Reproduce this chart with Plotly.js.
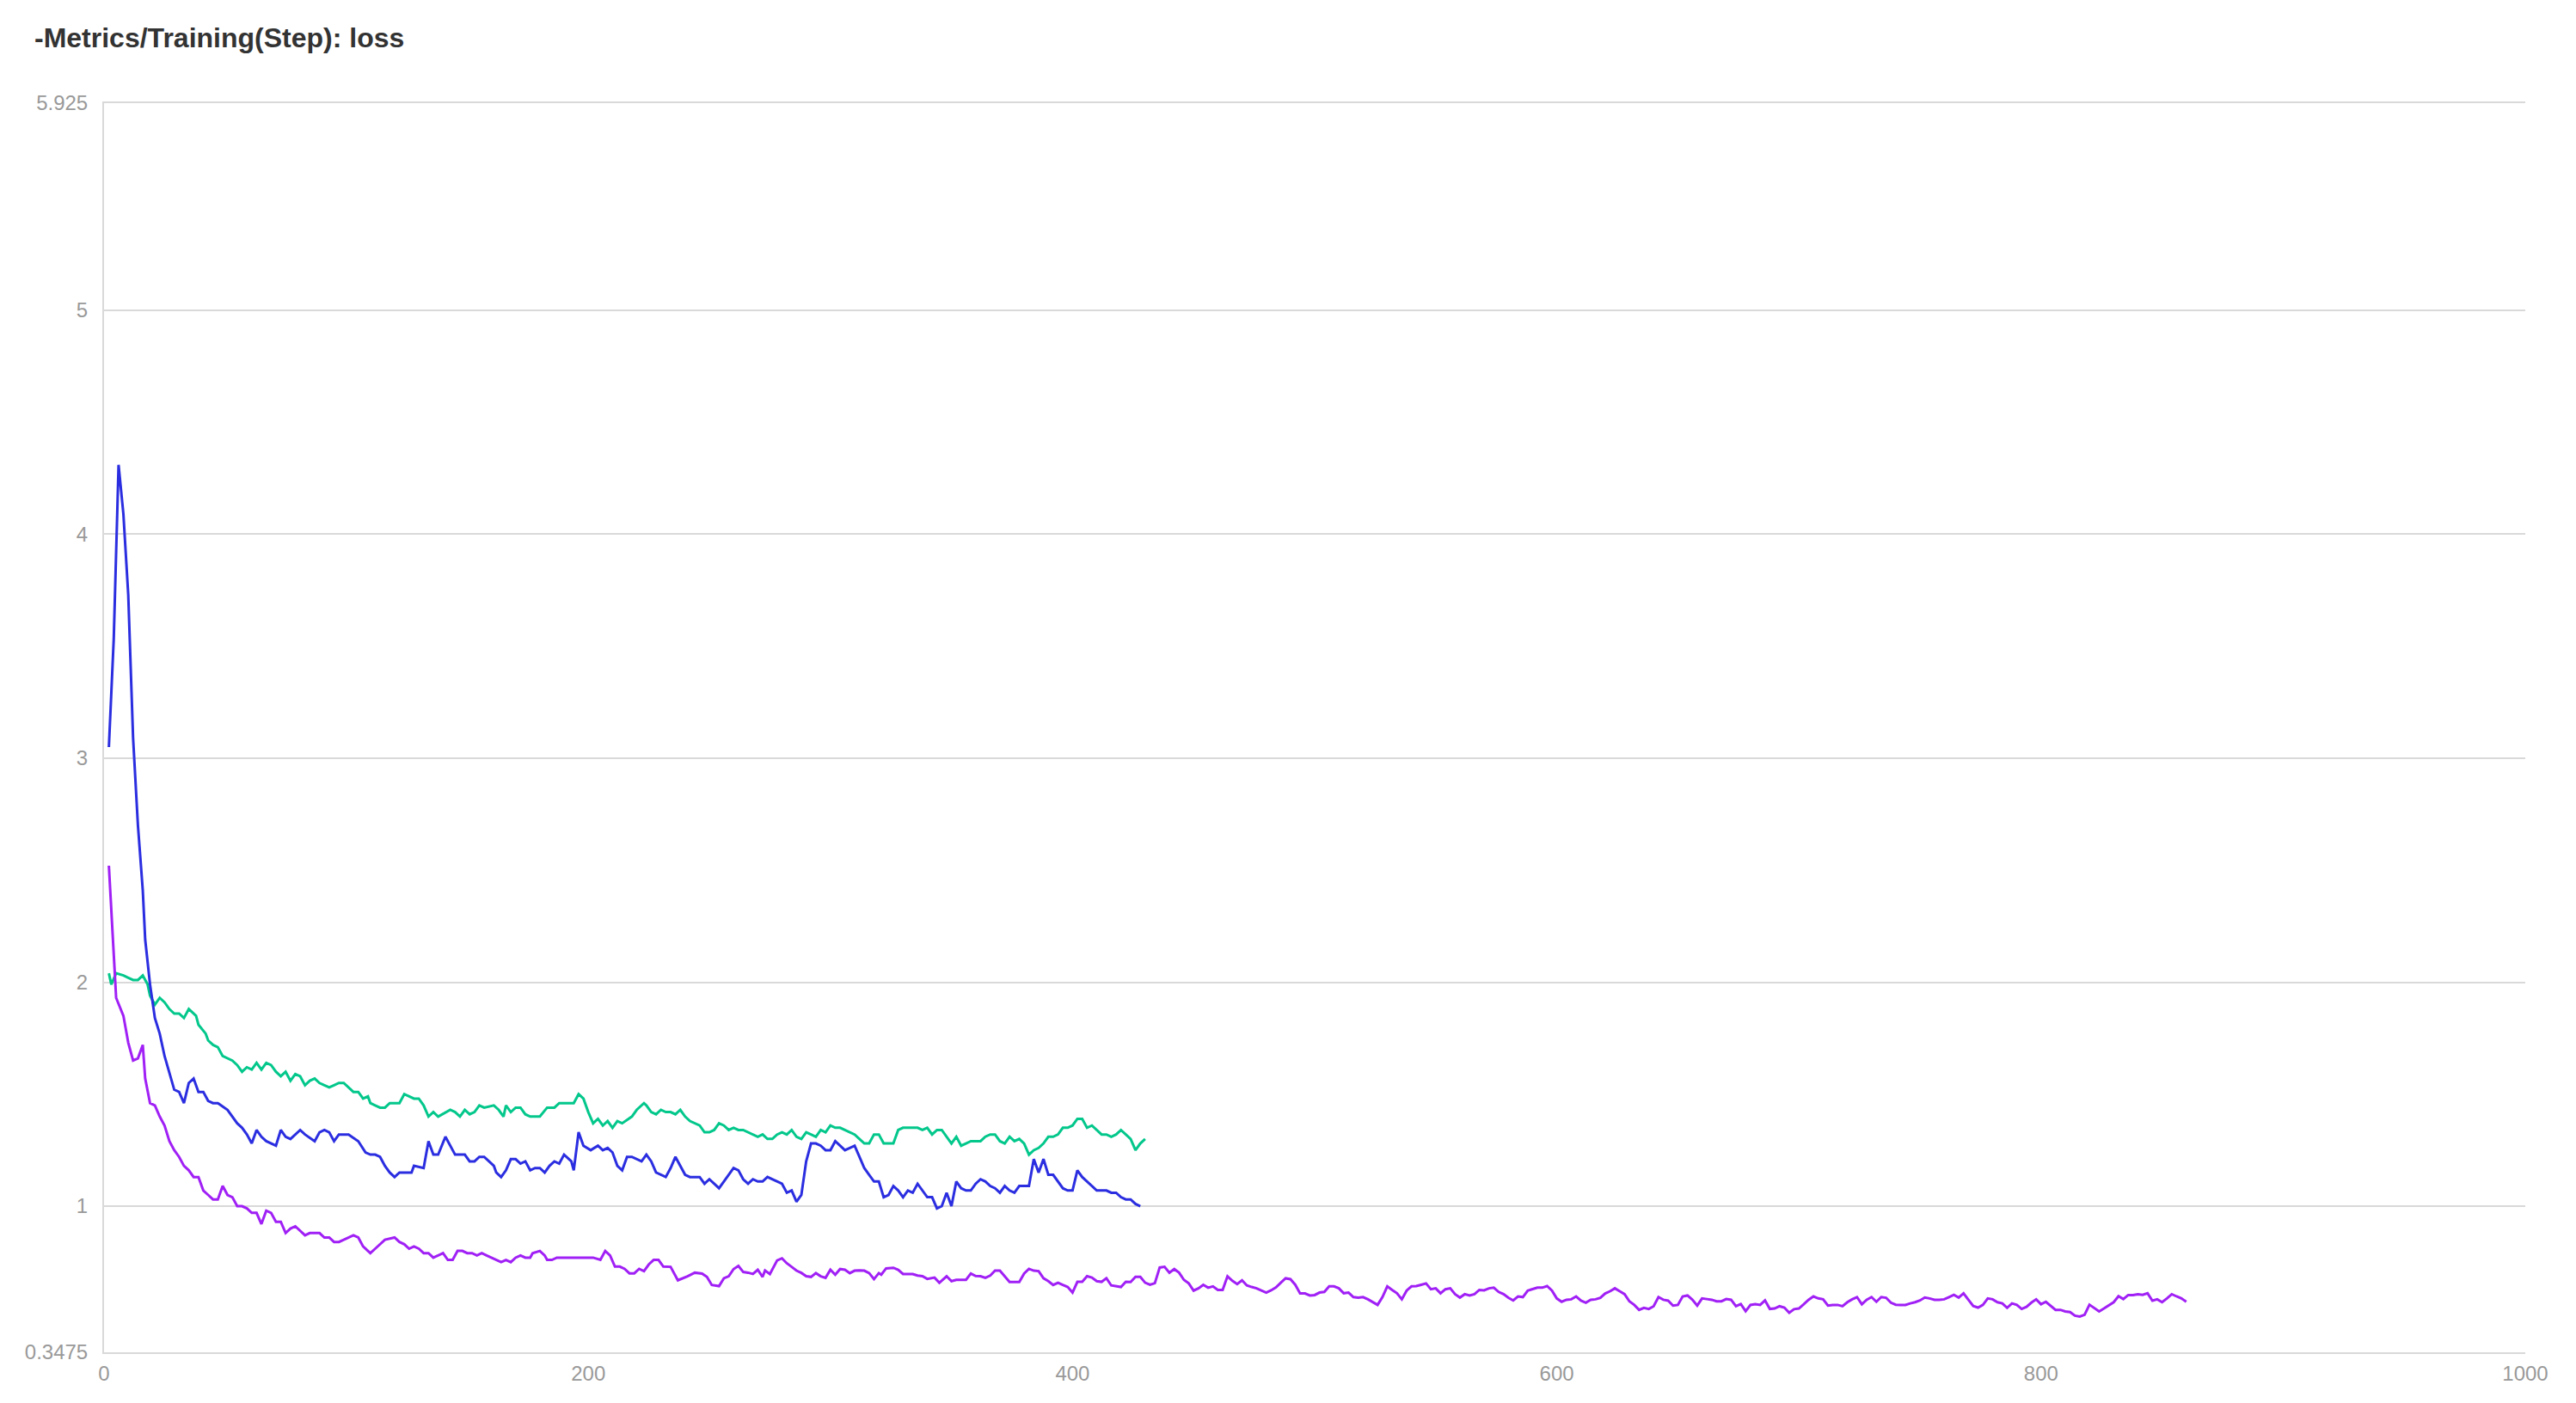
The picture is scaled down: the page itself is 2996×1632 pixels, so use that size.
<!DOCTYPE html>
<html>
<head>
<meta charset="utf-8">
<script src="https://cdn.plot.ly/plotly-3.0.1.min.js"></script>
<style>
  html, body { margin: 0; padding: 0; background: #fff; }
  #graph { width: 2996px; height: 1632px; }
</style>
</head>
<body>
<div id="graph"></div>
<script>
// green run
const greenStep = [2, 3, 5, 8, 10, 12, 14, 16, 18, 19, 21, 23, 25, 27, 29, 31, 33, 35, 38, 39, 42, 43, 45, 47, 49, 53, 55, 57, 59, 61, 63, 65, 67, 69, 71, 73, 75, 77, 79, 81, 83, 85, 87, 89, 91, 93, 95, 97, 99, 101, 103, 105, 107, 109, 110, 112, 114, 116, 118, 120, 122, 124, 126, 128, 130, 132, 134, 136, 138, 141, 143, 145, 147, 149, 151, 153, 155, 157, 161, 163, 165, 166, 168, 170, 172, 174, 176, 180, 183, 186, 188, 190, 192, 194, 196, 198, 200, 202, 204, 206, 208, 210, 212, 214, 218, 220, 223, 224, 226, 228, 230, 232,
  234, 236, 238, 240, 242, 244, 246, 248, 250, 252, 254, 256, 258, 260, 262, 264, 266, 268, 270, 272, 274, 276, 278, 280, 282, 284, 286, 288, 290, 292, 294, 296, 298, 300, 302, 304, 306, 308, 310, 312, 314, 316, 318, 320, 322, 324, 326, 328, 330, 332, 334, 336, 338, 340, 342, 344, 346, 348, 350, 352, 354, 356, 358, 360, 362, 364, 366, 368, 370, 372, 374, 376, 378, 380, 382, 384, 386, 388, 390, 392, 394, 396, 398, 400, 402, 404, 406, 408, 410, 412, 414, 416, 418, 420, 422, 424, 426, 428, 430];
const greenLoss = [2.04, 1.99, 2.04, 2.03, 2.02, 2.01, 2.01, 2.03, 1.99, 1.94, 1.90, 1.93, 1.91, 1.88, 1.86, 1.86, 1.84, 1.88, 1.85, 1.81, 1.77, 1.74, 1.72, 1.71, 1.67, 1.65, 1.63, 1.60, 1.62, 1.61, 1.64, 1.61, 1.64, 1.63, 1.60, 1.58, 1.60, 1.56, 1.59, 1.58, 1.54, 1.56, 1.57, 1.55, 1.54, 1.53, 1.54, 1.55, 1.55, 1.53, 1.51, 1.51, 1.48, 1.49, 1.46, 1.45, 1.44, 1.44, 1.46, 1.46, 1.46, 1.50, 1.49, 1.48, 1.48, 1.45, 1.40, 1.42, 1.40, 1.42, 1.43, 1.42, 1.40, 1.43, 1.41, 1.42, 1.45, 1.44, 1.45, 1.43, 1.40, 1.45, 1.42, 1.44, 1.44, 1.41, 1.40, 1.40, 1.44, 1.44, 1.46, 1.46, 1.46, 1.46, 1.50, 1.48, 1.42, 1.37, 1.39, 1.36, 1.38, 1.35, 1.38, 1.37, 1.40, 1.43, 1.46, 1.45, 1.42, 1.41, 1.43, 1.42,
  1.42, 1.41, 1.43, 1.40, 1.38, 1.37, 1.36, 1.33, 1.33, 1.34, 1.37, 1.36, 1.34, 1.35, 1.34, 1.34, 1.33, 1.32, 1.31, 1.32, 1.30, 1.30, 1.32, 1.33, 1.32, 1.34, 1.31, 1.30, 1.33, 1.32, 1.31, 1.34, 1.33, 1.36, 1.35, 1.35, 1.34, 1.33, 1.32, 1.30, 1.28, 1.28, 1.32, 1.32, 1.28, 1.28, 1.28, 1.34, 1.35, 1.35, 1.35, 1.35, 1.34, 1.35, 1.32, 1.34, 1.34, 1.31, 1.28, 1.31, 1.27, 1.28, 1.29, 1.29, 1.29, 1.31, 1.32, 1.32, 1.29, 1.28, 1.31, 1.29, 1.30, 1.28, 1.23, 1.25, 1.26, 1.28, 1.31, 1.31, 1.32, 1.35, 1.35, 1.36, 1.39, 1.39, 1.35, 1.36, 1.34, 1.32, 1.32, 1.31, 1.32, 1.34, 1.32, 1.30, 1.25, 1.28, 1.30];

// blue run
const blueStep = [2, 4, 6, 8, 10, 12, 14, 16, 17, 19, 21, 23, 25, 27, 29, 31, 33, 35, 37, 39, 41, 43, 45, 47, 51, 55, 57, 59, 61, 63, 65, 67, 71, 73, 75, 77, 79, 81, 83, 87, 89, 91, 93, 95, 97, 101, 105, 108, 110, 112, 114, 116, 118, 120, 122, 127, 128, 132, 134, 136, 138, 141, 145, 149, 151, 153, 155, 157, 159, 161, 162, 164, 166, 168, 170, 172, 174, 176, 178, 180, 182, 184, 186, 188, 190, 193, 194, 196, 198, 201, 204, 206, 208, 210, 212, 214, 216, 218, 222, 224, 226, 228, 232,
  234, 236, 238, 240, 242, 244, 246, 248, 250, 252, 254, 256, 258, 260, 262, 264, 266, 268, 270, 272, 274, 276, 278, 280, 282, 284, 286, 288, 290, 292, 294, 296, 298, 300, 302, 304, 306, 308, 310, 312, 314, 316, 318, 320, 322, 324, 326, 328, 330, 332, 334, 336, 338, 340, 342, 344, 346, 348, 350, 352, 354, 356, 358, 360, 362, 364, 366, 368, 370, 372, 374, 376, 378, 380, 382, 384, 386, 388, 390, 392, 394, 396, 398, 400, 402, 404, 406, 408, 410, 412, 414, 416, 418, 420, 422, 424, 426, 428, 430];
const blueLoss = [3.05, 3.53, 4.31, 4.09, 3.73, 3.09, 2.70, 2.41, 2.19, 1.99, 1.84, 1.77, 1.67, 1.59, 1.52, 1.51, 1.46, 1.55, 1.57, 1.51, 1.51, 1.47, 1.46, 1.46, 1.43, 1.37, 1.35, 1.32, 1.28, 1.34, 1.31, 1.29, 1.27, 1.34, 1.31, 1.30, 1.32, 1.34, 1.32, 1.29, 1.33, 1.34, 1.33, 1.29, 1.32, 1.32, 1.29, 1.24, 1.23, 1.23, 1.22, 1.18, 1.15, 1.13, 1.15, 1.15, 1.18, 1.17, 1.29, 1.23, 1.23, 1.31, 1.23, 1.23, 1.20, 1.20, 1.22, 1.22, 1.20, 1.18, 1.15, 1.13, 1.16, 1.21, 1.21, 1.19, 1.20, 1.16, 1.17, 1.17, 1.15, 1.18, 1.20, 1.19, 1.23, 1.20, 1.16, 1.33, 1.27, 1.25, 1.27, 1.25, 1.26, 1.24, 1.18, 1.16, 1.22, 1.22, 1.20, 1.23, 1.20, 1.15, 1.13,
  1.17, 1.22, 1.18, 1.14, 1.13, 1.13, 1.13, 1.10, 1.12, 1.10, 1.08, 1.11, 1.14, 1.17, 1.16, 1.12, 1.10, 1.12, 1.11, 1.11, 1.13, 1.12, 1.11, 1.10, 1.06, 1.07, 1.02, 1.05, 1.20, 1.28, 1.28, 1.27, 1.25, 1.25, 1.29, 1.27, 1.25, 1.26, 1.27, 1.22, 1.17, 1.14, 1.11, 1.11, 1.04, 1.05, 1.09, 1.07, 1.04, 1.07, 1.06, 1.10, 1.07, 1.04, 1.04, 0.99, 1.00, 1.06, 1.00, 1.11, 1.08, 1.07, 1.07, 1.10, 1.12, 1.11, 1.09, 1.08, 1.06, 1.09, 1.07, 1.06, 1.09, 1.09, 1.09, 1.21, 1.15, 1.21, 1.14, 1.14, 1.11, 1.08, 1.07, 1.07, 1.16, 1.13, 1.11, 1.09, 1.07, 1.07, 1.07, 1.06, 1.06, 1.04, 1.03, 1.03, 1.01, 1.00];

// purple run
const purpleStep = [2, 3, 4, 5, 8, 10, 12, 14, 16, 17, 19, 21, 23, 25, 27, 29, 31, 33, 35, 37, 39, 41, 43, 45, 47, 49, 51, 53, 55, 57, 59, 61, 63, 65, 67, 69, 71, 73, 75, 77, 79, 81, 83, 85, 89, 91, 93, 95, 97, 99, 101, 103, 105, 107, 109, 110, 112, 114, 116, 120, 122, 124, 126, 128, 130, 132, 134, 136, 138, 140, 142, 144, 146, 148, 150, 152, 154, 156, 158, 160, 162, 164, 166, 168, 170, 172, 174, 176, 177, 180, 182, 183, 185, 187, 191, 195, 199, 202, 205, 207, 209, 211, 213, 215, 217, 219, 221, 223, 225, 227, 229, 231,
  234, 237, 241, 244, 247, 249, 251, 254, 256, 258, 260, 262, 264, 266, 268, 270, 272, 273, 275, 278, 280, 282, 284, 286, 288, 290, 292, 294, 296, 298, 300, 302, 304, 306, 308, 310, 312, 314, 316, 318, 320, 321, 323, 326, 328, 330, 332, 334, 336, 338, 340, 343, 345, 348, 350, 352, 354, 356, 358, 360, 362, 364, 366, 368, 370, 372, 374, 376, 378, 380, 382, 384, 386, 388, 390, 392, 394, 396, 398, 400, 402, 404, 406, 408, 410, 412, 414, 416, 420, 422, 424, 426, 428, 430, 432, 434, 436, 438, 440, 442,
  444, 446, 448, 450, 452, 454, 456, 458, 460, 462, 464, 466, 468, 470, 472, 474, 476, 478, 480, 482, 484, 486, 488, 490, 492, 494, 496, 498, 500, 502, 504, 506, 508, 510, 512, 514, 516, 518, 520, 522, 524, 526, 528, 530, 532, 534, 536, 538, 540, 542, 544, 546, 548, 550, 552, 554, 556, 558, 560, 562, 564, 566, 568, 570, 572, 574, 576, 578, 580, 582, 584, 586, 588, 590, 592, 594, 596, 598, 600, 602, 604, 606, 608, 610, 612, 614, 616, 618, 620, 622, 624, 626, 628, 630, 632, 634, 636, 638, 640, 642, 644, 646, 648, 650, 652,
  654, 656, 658, 660, 662, 664, 666, 668, 670, 672, 674, 676, 678, 680, 682, 684, 686, 688, 690, 692, 694, 696, 698, 700, 702, 704, 706, 708, 710, 712, 714, 716, 718, 720, 722, 724, 726, 728, 730, 732, 734, 736, 738, 740, 742, 744, 746, 748, 750, 752, 754, 756, 758, 760, 762, 764, 766, 768, 770, 772, 774, 776, 778, 780, 782, 784, 786, 788, 790, 792, 794, 796, 798, 800, 802, 804, 806, 808, 810, 812, 814, 816, 818, 820, 822, 824, 826, 828, 830, 832, 834, 836, 838, 840, 842, 844, 846, 848, 850, 852, 854, 856, 858, 860];
const purpleLoss = [2.52, 2.33, 2.16, 1.93, 1.85, 1.73, 1.65, 1.66, 1.72, 1.57, 1.46, 1.45, 1.40, 1.36, 1.29, 1.25, 1.22, 1.18, 1.16, 1.13, 1.13, 1.07, 1.05, 1.03, 1.03, 1.09, 1.05, 1.04, 1.00, 1.00, 0.99, 0.97, 0.97, 0.92, 0.98, 0.97, 0.93, 0.93, 0.88, 0.90, 0.91, 0.89, 0.87, 0.88, 0.88, 0.86, 0.86, 0.84, 0.84, 0.85, 0.86, 0.87, 0.86, 0.82, 0.80, 0.79, 0.81, 0.83, 0.85, 0.86, 0.84, 0.83, 0.81, 0.82, 0.81, 0.79, 0.79, 0.77, 0.78, 0.79, 0.76, 0.76, 0.80, 0.80, 0.79, 0.79, 0.78, 0.79, 0.78, 0.77, 0.76, 0.75, 0.76, 0.75, 0.77, 0.78, 0.77, 0.77, 0.79, 0.80, 0.78, 0.76, 0.76, 0.77, 0.77, 0.77, 0.77, 0.77, 0.76, 0.80, 0.78, 0.73, 0.73, 0.72, 0.70, 0.70, 0.72, 0.71, 0.74, 0.76, 0.76, 0.73,
  0.729, 0.669, 0.687, 0.703, 0.699, 0.684, 0.648, 0.643, 0.678, 0.687, 0.719, 0.733, 0.706, 0.703, 0.697, 0.716, 0.684, 0.713, 0.697, 0.758, 0.767, 0.745, 0.729, 0.712, 0.702, 0.687, 0.684, 0.701, 0.687, 0.680, 0.716, 0.694, 0.719, 0.716, 0.701, 0.712, 0.713, 0.712, 0.701, 0.674, 0.701, 0.694, 0.722, 0.725, 0.716, 0.697, 0.697, 0.697, 0.690, 0.687, 0.675, 0.681, 0.658, 0.687, 0.665, 0.671, 0.671, 0.671, 0.699, 0.688, 0.687, 0.680, 0.690, 0.712, 0.712, 0.687, 0.661, 0.661, 0.661, 0.699, 0.720, 0.712, 0.710, 0.678, 0.665, 0.648, 0.658, 0.648, 0.639, 0.614, 0.662, 0.662, 0.687, 0.681, 0.665, 0.662, 0.678, 0.646, 0.639, 0.662, 0.661, 0.684, 0.684, 0.658, 0.649, 0.656, 0.726, 0.729, 0.703, 0.719,
  0.703, 0.671, 0.655, 0.623, 0.633, 0.649, 0.636, 0.642, 0.626, 0.626, 0.687, 0.667, 0.652, 0.669, 0.646, 0.639, 0.633, 0.623, 0.614, 0.624, 0.637, 0.658, 0.678, 0.674, 0.649, 0.610, 0.610, 0.601, 0.603, 0.614, 0.617, 0.642, 0.642, 0.633, 0.611, 0.614, 0.594, 0.591, 0.594, 0.584, 0.573, 0.559, 0.594, 0.642, 0.626, 0.611, 0.584, 0.623, 0.642, 0.643, 0.649, 0.655, 0.629, 0.633, 0.611, 0.629, 0.633, 0.607, 0.592, 0.607, 0.601, 0.607, 0.626, 0.624, 0.633, 0.636, 0.617, 0.607, 0.591, 0.579, 0.597, 0.594, 0.623, 0.629, 0.636, 0.636, 0.643, 0.623, 0.588, 0.573, 0.582, 0.584, 0.597, 0.578, 0.569, 0.582, 0.584, 0.591, 0.610, 0.620, 0.633, 0.620, 0.607, 0.575, 0.559, 0.537, 0.546, 0.541, 0.553, 0.594, 0.582, 0.578, 0.556, 0.559, 0.597,
  0.601, 0.582, 0.556, 0.588, 0.585, 0.582, 0.575, 0.575, 0.585, 0.582, 0.553, 0.563, 0.531, 0.559, 0.562, 0.559, 0.579, 0.541, 0.543, 0.553, 0.547, 0.524, 0.540, 0.543, 0.562, 0.582, 0.597, 0.588, 0.584, 0.556, 0.559, 0.559, 0.553, 0.571, 0.584, 0.594, 0.562, 0.582, 0.594, 0.573, 0.594, 0.591, 0.569, 0.560, 0.559, 0.559, 0.566, 0.571, 0.579, 0.592, 0.588, 0.582, 0.582, 0.584, 0.594, 0.604, 0.592, 0.611, 0.582, 0.554, 0.547, 0.559, 0.588, 0.584, 0.571, 0.566, 0.546, 0.566, 0.559, 0.541, 0.550, 0.569, 0.584, 0.562, 0.573, 0.554, 0.537, 0.537, 0.530, 0.527, 0.511, 0.507, 0.515, 0.560, 0.546, 0.530, 0.543, 0.556, 0.571, 0.598, 0.585, 0.603, 0.603, 0.607, 0.604, 0.611, 0.578, 0.584, 0.571, 0.588, 0.607, 0.597, 0.588, 0.573];

const yTicks = [0.3475, 1, 2, 3, 4, 5, 5.925];
const yTickText = ["0.3475", "1", "2", "3", "4", "5", "5.925"];
const xTicks = [0, 200, 400, 600, 800, 1000];

const font = "Liberation Sans, Arial, sans-serif";

function run(x, y, color) {
    return {
        x: x,
        y: y,
        type: "scatter",
        mode: "lines",
        hoverinfo: "skip",
        line: { color: color, width: 3 }
    };
}

let data = [
    run(greenStep, greenLoss, "#03c78b"),
    run(blueStep, blueLoss, "#2b2ee0"),
    run(purpleStep, purpleLoss, "#a020f5")
];

let layout = {
    width: 2996,
    height: 1632,
    showlegend: false,
    paper_bgcolor: "#ffffff",
    plot_bgcolor: "#ffffff",
    margin: { l: 121, r: 59, t: 120, b: 59, pad: 0 },
    font: { family: font, color: "#999999", size: 24 },
    title: {
        text: "-Metrics/Training(Step): loss",
        font: { family: font, size: 32, color: "#333333", weight: "bold" },
        xref: "container", yref: "container",
        x: 40 / 2996, xanchor: "left",
        y: 1 - 44 / 1632, yanchor: "middle"
    },
    xaxis: {
        range: [0, 1000],
        tickvals: xTicks,
        showgrid: false,
        zeroline: false,
        showline: true,
        mirror: true,
        linecolor: "#d9d9d9",
        linewidth: 2,
        ticks: "",
        ticklabelstandoff: 2,
        tickfont: { family: font, size: 24, color: "#999999" }
    },
    yaxis: {
        range: [0.3475, 5.925],
        tickvals: yTicks,
        ticktext: yTickText,
        showgrid: true,
        gridcolor: "#d9d9d9",
        gridwidth: 2,
        zeroline: false,
        showline: true,
        linecolor: "#d9d9d9",
        linewidth: 2,
        ticks: "outside",
        ticklen: 12,
        tickcolor: "rgba(0,0,0,0)",
        tickfont: { family: font, size: 24, color: "#999999" }
    }
};

Plotly.newPlot("graph", data, layout, { displayModeBar: false, staticPlot: true });
</script>
</body>
</html>
